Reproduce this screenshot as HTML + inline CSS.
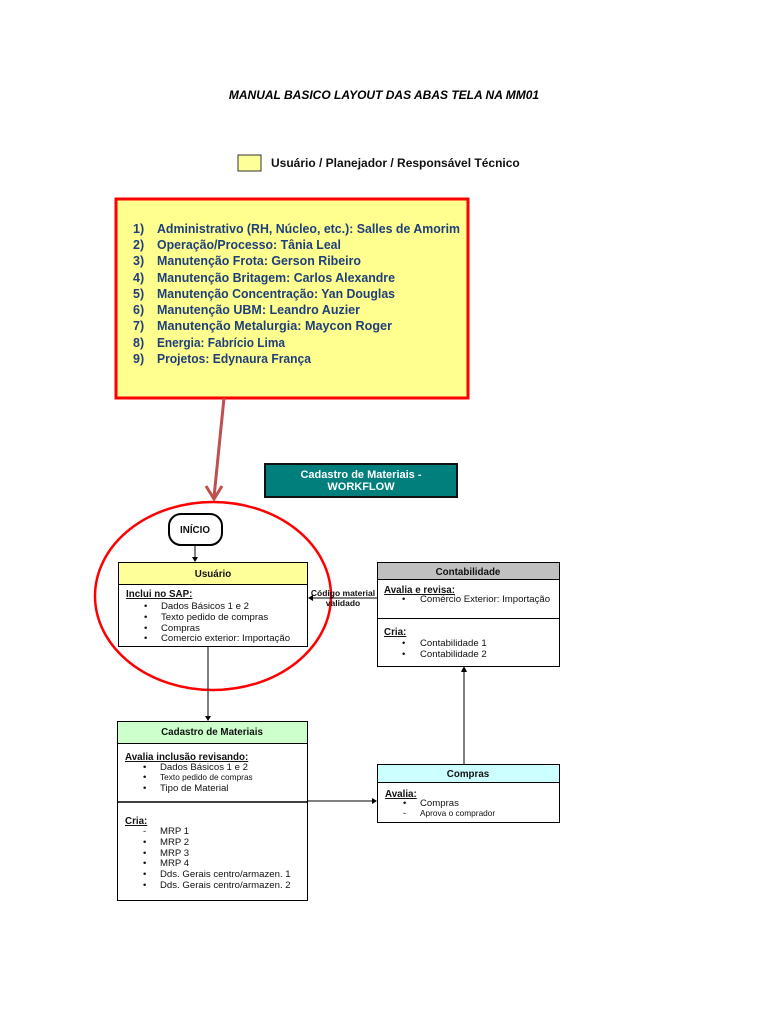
<!DOCTYPE html>
<html><head><meta charset="utf-8"><style>
html,body{margin:0;padding:0;background:#fff;}
svg{display:block;font-family:"Liberation Sans",sans-serif;}
.y{font-weight:bold;font-size:12.5px;fill:#1f3f7a;}
.s{font-size:9.6px;fill:#111;}
.h{font-size:9.8px;font-weight:bold;fill:#111;}
</style></head><body>
<svg width="768" height="1024" viewBox="0 0 768 1024">
<text x="384" y="99" text-anchor="middle" font-size="12" font-style="italic" font-weight="bold" fill="#000">MANUAL BASICO LAYOUT DAS ABAS TELA NA MM01</text>
<rect x="238" y="155" width="23" height="16" fill="#ffff99" stroke="#333" stroke-width="1"/>
<text x="271" y="167" font-size="12" font-weight="bold" fill="#111">Usuário / Planejador / Responsável Técnico</text>
<rect x="116" y="199" width="352" height="199" fill="#ffff8f" stroke="#f00" stroke-width="3"/>
<g class="y">
<text x="133" y="233">1)</text><text x="157" y="233" textLength="303" lengthAdjust="spacingAndGlyphs">Administrativo (RH, Núcleo, etc.): Salles de Amorim</text>
<text x="133" y="249">2)</text><text x="157" y="249" textLength="184" lengthAdjust="spacingAndGlyphs">Operação/Processo:  Tânia Leal</text>
<text x="133" y="265">3)</text><text x="157" y="265" textLength="204" lengthAdjust="spacingAndGlyphs">Manutenção Frota: Gerson Ribeiro</text>
<text x="133" y="282">4)</text><text x="157" y="282" textLength="238" lengthAdjust="spacingAndGlyphs">Manutenção Britagem: Carlos Alexandre</text>
<text x="133" y="298">5)</text><text x="157" y="298" textLength="238" lengthAdjust="spacingAndGlyphs">Manutenção Concentração: Yan Douglas</text>
<text x="133" y="314">6)</text><text x="157" y="314" textLength="203" lengthAdjust="spacingAndGlyphs">Manutenção UBM: Leandro Auzier</text>
<text x="133" y="330">7)</text><text x="157" y="330" textLength="235" lengthAdjust="spacingAndGlyphs">Manutenção Metalurgia: Maycon Roger</text>
<text x="133" y="347">8)</text><text x="157" y="347" textLength="128" lengthAdjust="spacingAndGlyphs">Energia: Fabrício Lima</text>
<text x="133" y="363">9)</text><text x="157" y="363" textLength="154" lengthAdjust="spacingAndGlyphs">Projetos: Edynaura França</text>
</g>
<line x1="224" y1="398" x2="214" y2="497" stroke="#c0504d" stroke-width="3"/>
<polyline points="206,486 214,499 222,486" fill="none" stroke="#c0504d" stroke-width="3"/>
<rect x="265" y="464" width="192" height="33" fill="#007f7c" stroke="#111" stroke-width="2"/>
<text x="361" y="478" text-anchor="middle" font-size="11" font-weight="bold" fill="#fff">Cadastro de Materiais -</text>
<text x="361" y="490" text-anchor="middle" font-size="11" font-weight="bold" fill="#fff">WORKFLOW</text>
<ellipse cx="213" cy="596" rx="118" ry="94" fill="none" stroke="#f00" stroke-width="2.5"/>
<rect x="169" y="514" width="53" height="31" rx="12" fill="#fff" stroke="#000" stroke-width="2"/>
<text x="195" y="533" text-anchor="middle" class="h" font-size="9">INÍCIO</text>
<line x1="195" y1="545" x2="195" y2="558" stroke="#000"/><polygon points="192,557 198,557 195,562" fill="#000"/>
<rect x="118.5" y="562.5" width="189" height="84" fill="#fff" stroke="#000"/>
<rect x="118.5" y="562.5" width="189" height="22" fill="#ffff99" stroke="#000"/>
<text x="213" y="577" text-anchor="middle" class="h">Usuário</text>
<text x="126" y="597" class="h" text-decoration="underline" font-size="9">Inclui no SAP:</text>
<g class="s"><text x="144" y="609">•</text><text x="161" y="609">Dados Básicos 1 e 2</text>
<text x="144" y="620">•</text><text x="161" y="620">Texto pedido de compras</text>
<text x="144" y="631">•</text><text x="161" y="631">Compras</text>
<text x="144" y="641">•</text><text x="161" y="641">Comercio exterior: Importação</text></g>
<rect x="377.5" y="562.5" width="182" height="104" fill="#fff" stroke="#000"/>
<rect x="377.5" y="562.5" width="182" height="17" fill="#c0c0c0" stroke="#000"/>
<text x="468" y="575" text-anchor="middle" class="h">Contabilidade</text>
<line x1="377" y1="618.5" x2="559" y2="618.5" stroke="#000"/>
<text x="384" y="593" class="h" text-decoration="underline">Avalia e revisa:</text>
<g class="s"><text x="402" y="602">•</text><text x="420" y="602">Comércio Exterior: Importação</text></g>
<text x="384" y="635" class="h" text-decoration="underline" font-size="9">Cria:</text>
<g class="s"><text x="402" y="646">•</text><text x="420" y="646">Contabilidade 1</text>
<text x="402" y="657">•</text><text x="420" y="657">Contabilidade 2</text></g>
<line x1="377" y1="598" x2="312" y2="598" stroke="#000"/><polygon points="308,598 313,595 313,601" fill="#000"/>
<text x="343" y="596" text-anchor="middle" font-size="8.5" font-weight="bold" fill="#111">Código material</text>
<text x="343" y="606" text-anchor="middle" font-size="8.5" font-weight="bold" fill="#111">validado</text>
<line x1="208" y1="647" x2="208" y2="717" stroke="#000"/><polygon points="205,716 211,716 208,721" fill="#000"/>
<rect x="117.5" y="721.5" width="190" height="179" fill="#fff" stroke="#000"/>
<rect x="117.5" y="721.5" width="190" height="22" fill="#ccffcc" stroke="#000"/>
<text x="212" y="735" text-anchor="middle" class="h">Cadastro de Materiais</text>
<line x1="117" y1="802" x2="307" y2="802" stroke="#000" stroke-width="1.5"/>
<text x="125" y="760" class="h" text-decoration="underline">Avalia inclusão revisando:</text>
<g class="s"><text x="143" y="770">•</text><text x="160" y="770">Dados Básicos 1 e 2</text>
<text x="143" y="780">•</text><text x="160" y="780" font-size="8.3">Texto pedido de compras</text>
<text x="143" y="791">•</text><text x="160" y="791">Tipo de Material</text></g>
<text x="125" y="824" class="h" text-decoration="underline">Cria:</text>
<g class="s"><text x="143" y="834">-</text><text x="160" y="834">MRP 1</text>
<text x="143" y="845">•</text><text x="160" y="845">MRP 2</text>
<text x="143" y="856">•</text><text x="160" y="856">MRP 3</text>
<text x="143" y="866">•</text><text x="160" y="866">MRP 4</text>
<text x="143" y="877">•</text><text x="160" y="877">Dds. Gerais centro/armazen. 1</text>
<text x="143" y="888">•</text><text x="160" y="888">Dds. Gerais centro/armazen. 2</text></g>
<line x1="307" y1="801" x2="373" y2="801" stroke="#000"/><polygon points="377,801 372,798 372,804" fill="#000"/>
<rect x="377.5" y="764.5" width="182" height="58" fill="#fff" stroke="#000"/>
<rect x="377.5" y="764.5" width="182" height="18" fill="#ccffff" stroke="#000"/>
<text x="468" y="777" text-anchor="middle" class="h">Compras</text>
<text x="385" y="797" class="h" text-decoration="underline">Avalia:</text>
<g class="s"><text x="403" y="806">•</text><text x="420" y="806">Compras</text>
<text x="403" y="816">-</text><text x="420" y="816" font-size="8.3">Aprova o comprador</text></g>
<line x1="464" y1="764" x2="464" y2="671" stroke="#000"/><polygon points="461,672 467,672 464,666" fill="#000"/>
</svg>
</body></html>
